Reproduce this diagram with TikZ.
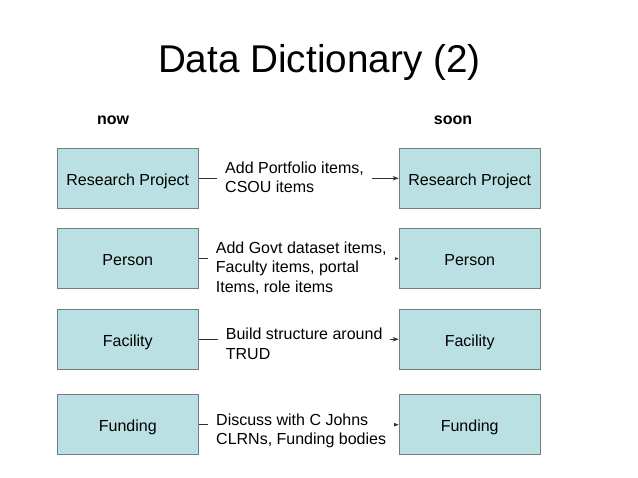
\documentclass[tikz,border=0pt]{standalone}
\usepackage{fontspec}
\setmainfont{Liberation Sans}
\usetikzlibrary{arrows.meta}
\definecolor{boxfill}{HTML}{BBE0E3}
\definecolor{boxline}{HTML}{6F7F80}
\definecolor{lnk}{HTML}{303030}
\tikzset{
  entity/.style={draw=boxline, line width=1.1pt, fill=boxfill, minimum width=141pt, minimum height=60pt,
    inner sep=0pt, text height=14pt, text depth=0pt, font=\fontsize{16}{19.3}\selectfont},
  note/.style={fill=white, align=left, inner xsep=8pt, inner ysep=0pt, anchor=north west,
    font=\fontsize{16}{19.3}\selectfont},
  link/.style={draw=lnk, line width=0.8pt, -{Stealth[length=6pt,width=4.5pt]}},
  head/.style={font=\fontsize{16}{19}\selectfont\bfseries, anchor=base}
}
\begin{document}
\begin{tikzpicture}[x=1pt,y=-1pt]
\useasboundingbox (0,0) rectangle (638,478);
\node[anchor=base, font=\fontsize{38.7}{46}\selectfont] (title) at (319.3,72.7) {Data Dictionary (2)};
\node[head] (now) at (113,125) {now};
\node[head] (soon) at (453,125) {soon};

\node[entity] (l1) at (127.8,178.3) {Research Project};
\node[entity] (l2) at (127.8,258.6) {Person};
\node[entity] (l3) at (127.8,339.3) {Facility};
\node[entity] (l4) at (127.8,424.7) {Funding};

\node[entity] (r1) at (469.7,178.3) {Research Project};
\node[entity] (r2) at (469.7,258.6) {Person};
\node[entity] (r3) at (469.7,339.3) {Facility};
\node[entity] (r4) at (469.7,424.7) {Funding};

\draw[link] (l1) -- (r1);
\draw[link] (l2) -- (r2);
\draw[link] (l3) -- (r3);
\draw[link] (l4) -- (r4);

\node[note] (n1) at (217,161.7) {Add Portfolio items,\\CSOU items};
\node[note] (n2) at (207.7,241.7) {Add Govt dataset items,\\Faculty items, portal\\Items, role items};
\node[note] (n3) at (217.7,328) {Build structure around\\TRUD};
\node[note] (n4) at (208,413.3) {Discuss with C Johns\\CLRNs, Funding bodies};
\end{tikzpicture}
\end{document}
